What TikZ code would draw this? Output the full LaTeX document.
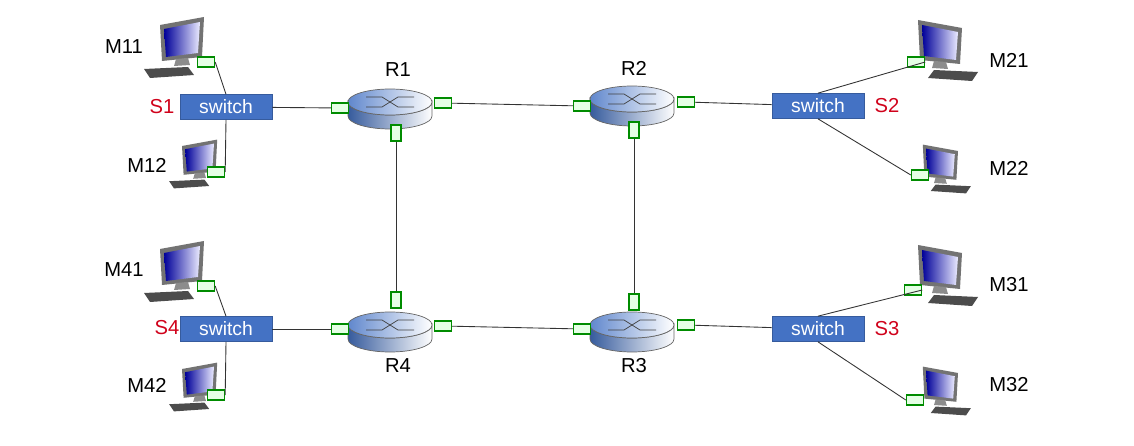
\documentclass[tikz,border=0pt]{standalone}
\usepackage{fontspec}
\setmainfont{Liberation Sans}
\usetikzlibrary{positioning}
\definecolor{swblue}{HTML}{4472C4}
\definecolor{lbred}{HTML}{D0021B}
\tikzset{
  switch/.style={fill=swblue, draw=swblue!80!black, text=white, minimum width=1.84cm, minimum height=0.5cm, inner sep=0pt},
  port/.style={fill=green!10, draw=green!55!black, line width=0.8pt, minimum width=0.34cm, minimum height=0.2cm, inner sep=0pt},
  vport/.style={port, minimum width=0.2cm, minimum height=0.32cm},
  lbl/.style={font=\fontsize{11.5}{13}\selectfont},
  slbl/.style={lbl, text=lbred},
  link/.style={draw=black!80, line width=0.5pt},
  router/.pic={
    \shade[left color=swblue!80!black, right color=white, draw=black!60]
      (-42,0) -- (-42,14) arc (180:0:42 and 13) -- (42,0) arc (0:180:42 and 13) -- cycle;
    \shade[left color=swblue!85, right color=white, draw=black!60] (0,0) ellipse (42 and 13);
    \draw[black!75] (-24,-5) -- (-8,-5) -- (8,5) -- (24,5);
    \draw[black!75] (-24,5) -- (-8,5) -- (8,-5) -- (24,-5);
  },
  computer/.pic={
    \fill[black!55] (-20,-20) -- (24,-28) -- (22,12) -- (-18,16) -- cycle;
    \shade[left color=blue!60!black, right color=blue!8] (-16,-16) -- (20,-23) -- (18,8) -- (-14,12) -- cycle;
    \fill[black!45] (-4,14) -- (8,13) -- (10,20) -- (-6,21) -- cycle;
    \fill[black!70] (-36,24) -- (8,22) -- (14,30) -- (-30,33) -- cycle;
  }
}
\begin{document}
\begin{tikzpicture}[x=0.02cm, y=-0.02cm]
\useasboundingbox (0,0) rectangle (1134,446);

% routers
\pic at (390,102) {router};
\pic at (632,99) {router};
\pic at (390,325) {router};
\pic at (632,325) {router};
\node[port] (R1l) at (340,108) {};
\node[port] (R1r) at (443,103) {};
\node[vport] (R1b) at (396,133) {};
\node[port] (R2l) at (582,106) {};
\node[port] (R2r) at (686,102) {};
\node[vport] (R2b) at (634,130) {};
\node[port] (R4l) at (340,329) {};
\node[port] (R4r) at (443,326) {};
\node[vport] (R4t) at (396,300) {};
\node[port] (R3l) at (582,329) {};
\node[port] (R3r) at (686,325) {};
\node[vport] (R3t) at (634,302) {};
\node[lbl] (R1) at (398,70) {R1};
\node[lbl] (R2) at (634,68) {R2};
\node[lbl] (R4) at (398,366) {R4};
\node[lbl] (R3) at (634,366) {R3};

% switches
\node[switch, font=\fontsize{11}{13}\selectfont] (S1) at (226,107) {switch};
\node[switch, font=\fontsize{11}{13}\selectfont] (S2) at (818,106) {switch};
\node[switch, font=\fontsize{11}{13}\selectfont] (S4) at (226,329) {switch};
\node[switch, font=\fontsize{11}{13}\selectfont] (S3) at (818,329) {switch};
\node[slbl] (S1n) at (162,107) {S1};
\node[slbl] (S2n) at (887,106) {S2};
\node[slbl] (S4n) at (167,328) {S4};
\node[slbl] (S3n) at (887,329) {S3};

% hosts
\pic at (180,45) {computer};
\pic[scale=0.8] at (198,162) {computer};
\pic[xscale=-1] at (942,48) {computer};
\pic[xscale=-0.8, yscale=0.8] at (942,167) {computer};
\pic at (180,269) {computer};
\pic[scale=0.8] at (198,385) {computer};
\pic[xscale=-1] at (942,273) {computer};
\pic[xscale=-0.8, yscale=0.8] at (942,389) {computer};
\node[port] (M11p) at (206,62) {};
\node[port] (M12p) at (216,172) {};
\node[port] (M21p) at (916,62) {};
\node[port] (M22p) at (920,175) {};
\node[port] (M41p) at (206,286) {};
\node[port] (M42p) at (216,395) {};
\node[port] (M31p) at (913,290) {};
\node[port] (M32p) at (915,400) {};
\node[lbl] (M11) at (124,47) {M11};
\node[lbl] (M12) at (147,165) {M12};
\node[lbl] (M21) at (1009,60) {M21};
\node[lbl] (M22) at (1009,168) {M22};
\node[lbl] (M41) at (124,270) {M41};
\node[lbl] (M42) at (147,385) {M42};
\node[lbl] (M31) at (1009,285) {M31};
\node[lbl] (M32) at (1009,385) {M32};

% links
\draw[link] (R1r) -- (R2l);
\draw[link] (R4r) -- (R3l);
\draw[link] (R1b) -- (R4t);
\draw[link] (R2b) -- (R3t);
\draw[link] (S1) -- (R1l);
\draw[link] (S4) -- (R4l);
\draw[link] (R2r) -- (S2);
\draw[link] (R3r) -- (S3);
\draw[link] (M11p.east) -- (S1.north);
\draw[link] (M12p.east) -- (S1.south);
\draw[link] (M41p.east) -- (S4.north);
\draw[link] (M42p.east) -- (S4.south);
\draw[link] (M21p.east) -- (S2.north);
\draw[link] (M22p.west) -- (S2.south);
\draw[link] (M31p.east) -- (S3.north);
\draw[link] (M32p.west) -- (S3.south);
\end{tikzpicture}
\end{document}
